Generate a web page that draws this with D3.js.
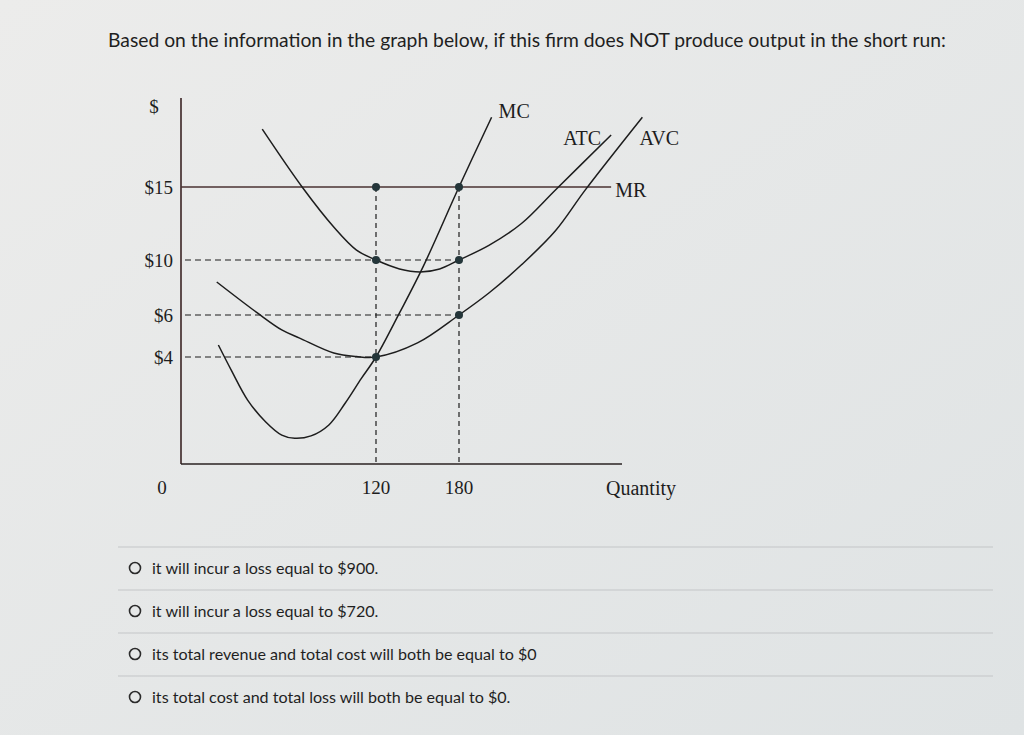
<!DOCTYPE html>
<html>
<head>
<meta charset="utf-8">
<script src="https://cdn.jsdelivr.net/npm/d3@7"></script>
<style>
  html, body { margin: 0; padding: 0; background: #e7e8e8; }
  svg { display: block; }
</style>
</head>
<body>
<div id="chart"></div>
<script>
// cost curves as [quantity, price]
var mcPoints  = [[23, 4.57], [31, 3.5], [41, 2.39], [52, 1.58], [62, 1.08], [70, 0.96], [80, 1.05], [91, 1.46], [101, 2.27], [111, 3.2], [120, 4], [137, 6.15], [154, 9.5], [180, 15], [204, 19.7]];
var atcPoints = [[50, 18.9], [75, 14.93], [94, 12.26], [108, 10.68], [120, 10], [137, 9.35], [152, 9.13], [166, 9.35], [180, 10], [202, 11], [226, 12.5], [251, 14.8], [292, 18.5]];
var avcPoints = [[22, 8.4], [47, 6.15], [62, 5.29], [73, 4.9], [94, 4.19], [108, 4.02], [120, 4], [150, 4.67], [180, 6], [202, 7.6], [226, 9.65], [251, 12], [273, 14.8], [315, 19.7]];
var mrPrice = 15;
var mrEnd = 292;

// axis labels
var priceTicks = [15, 10, 6, 4];
var quantityTicks = [0, 120, 180];

// guide lines: price levels carried to a quantity, and quantities dropped from a price
var hGuides = [{p: 10, q: 180}, {p: 6, q: 180}, {p: 4, q: 120}];
var vGuides = [{q: 120, p: 15}, {q: 180, p: 15}];
var dots = [[120, 15], [180, 15], [120, 10], [180, 10], [180, 6], [120, 4]];

var question = "Based on the information in the graph below, if this firm does NOT produce output in the short run:";
var answers = [
    "it will incur a loss equal to $900.",
    "it will incur a loss equal to $720.",
    "its total revenue and total cost will both be equal to $0",
    "its total cost and total loss will both be equal to $0."
];

var width = 1024, height = 735;
var ink = "#1d1d1d";
var serif = "'Liberation Serif', 'Times New Roman', serif";
var sans = "Lato, 'Open Sans', sans-serif";

var svg = d3.select("#chart").append("svg")
    .attr("width", width)
    .attr("height", height);

var grad = svg.append("defs").append("linearGradient")
    .attr("id", "bg")
    .attr("x1", 0).attr("y1", 0).attr("x2", 1).attr("y2", 1);
grad.append("stop").attr("offset", "0%").attr("stop-color", "#ececeb");
grad.append("stop").attr("offset", "100%").attr("stop-color", "#dfe3e4");

svg.append("rect")
    .attr("width", width).attr("height", height)
    .attr("fill", "url(#bg)");

// the graph is a sketch, so the scales are piecewise and not to proportion
var x = d3.scaleLinear()
    .domain([0, 120, 180, 300])
    .range([181, 376, 459, 622]);
var y = d3.scaleLinear()
    .domain([0, 4, 6, 10, 15, 21])
    .range([464, 357, 315, 260, 187, 98]);

var g = svg.append("g");

// axes
g.append("line")
    .attr("x1", x(0)).attr("x2", x(0))
    .attr("y1", y(21)).attr("y2", y(0))
    .attr("stroke", "#3a2424").attr("stroke-width", 1.6);
g.append("line")
    .attr("x1", x(0)).attr("x2", x(300))
    .attr("y1", y(0)).attr("y2", y(0))
    .attr("stroke", "#2a2222").attr("stroke-width", 1.6);

// dashed guides
g.selectAll(".hguide")
    .data(hGuides)
    .enter().append("line")
        .attr("class", "hguide")
        .attr("x1", x(0) + 4).attr("x2", function(d) { return x(d.q); })
        .attr("y1", function(d) { return y(d.p); })
        .attr("y2", function(d) { return y(d.p); })
        .attr("stroke", ink).attr("stroke-width", 1.2)
        .attr("stroke-dasharray", "6,4");
g.selectAll(".vguide")
    .data(vGuides)
    .enter().append("line")
        .attr("class", "vguide")
        .attr("x1", function(d) { return x(d.q); })
        .attr("x2", function(d) { return x(d.q); })
        .attr("y1", function(d) { return y(d.p); })
        .attr("y2", y(0))
        .attr("stroke", ink).attr("stroke-width", 1.2)
        .attr("stroke-dasharray", "5,4");

// MR
g.append("line")
    .attr("x1", x(0)).attr("x2", x(mrEnd))
    .attr("y1", y(mrPrice)).attr("y2", y(mrPrice))
    .attr("stroke", "#4a3232").attr("stroke-width", 1.4);

var line = d3.line()
    .x(function(d) { return x(d[0]); })
    .y(function(d) { return y(d[1]); })
    .curve(d3.curveCatmullRom.alpha(0.5));

var curves = [
    {name: "MC", pts: mcPoints},
    {name: "ATC", pts: atcPoints},
    {name: "AVC", pts: avcPoints}
];
g.selectAll(".curve")
    .data(curves)
    .enter().append("path")
        .attr("class", "curve")
        .attr("d", function(d) { return line(d.pts); })
        .attr("fill", "none")
        .attr("stroke", ink)
        .attr("stroke-width", 1.5);

g.selectAll(".dot")
    .data(dots)
    .enter().append("circle")
        .attr("class", "dot")
        .attr("cx", function(d) { return x(d[0]); })
        .attr("cy", function(d) { return y(d[1]); })
        .attr("r", 4)
        .attr("fill", "#24363a");

// curve labels, placed off the last point of each curve
var labelOffsets = {MC: [7, 1, "start"], ATC: [-10, 10, "end"], AVC: [-3, 28, "start"]};
g.selectAll(".curve-label")
    .data(curves)
    .enter().append("text")
        .attr("class", "curve-label")
        .text(function(d) { return d.name; })
        .attr("x", function(d) { return x(d.pts[d.pts.length - 1][0]) + labelOffsets[d.name][0]; })
        .attr("y", function(d) { return y(d.pts[d.pts.length - 1][1]) + labelOffsets[d.name][1]; })
        .style("text-anchor", function(d) { return labelOffsets[d.name][2]; })
        .style("font-family", serif).style("font-size", "20px")
        .attr("fill", ink);
g.append("text")
    .text("MR")
    .attr("x", x(mrEnd) + 4).attr("y", y(mrPrice) + 10)
    .style("font-family", serif).style("font-size", "20px")
    .attr("fill", ink);

// tick labels
g.selectAll(".ylab")
    .data(priceTicks)
    .enter().append("text")
        .attr("class", "ylab")
        .text(function(d) { return "$" + d; })
        .attr("x", x(0) - 8)
        .attr("y", function(d) { return y(d) + 7; })
        .style("text-anchor", "end")
        .style("font-family", serif).style("font-size", "19px")
        .attr("fill", ink);
g.append("text")
    .text("$")
    .attr("x", 154).attr("y", y(21) + 15)
    .style("text-anchor", "middle")
    .style("font-family", serif).style("font-size", "19px")
    .attr("fill", ink);
g.selectAll(".xlab")
    .data(quantityTicks)
    .enter().append("text")
        .attr("class", "xlab")
        .text(function(d) { return d; })
        .attr("x", function(d) { return d === 0 ? x(d) - 19 : x(d); })
        .attr("y", y(0) + 30)
        .style("text-anchor", "middle")
        .style("font-family", serif).style("font-size", "19px")
        .attr("fill", ink);
g.append("text")
    .text("Quantity")
    .attr("x", 641).attr("y", y(0) + 31)
    .style("text-anchor", "middle")
    .style("font-family", serif).style("font-size", "20px")
    .attr("fill", ink);

// question and answer options
svg.append("text")
    .text(question)
    .attr("x", 108).attr("y", 47)
    .style("font-family", sans).style("font-size", "19.3px")
    .attr("fill", "#1f1f1f");

var rowTop = 547, rowStep = 43;
svg.selectAll(".sep")
    .data(answers)
    .enter().append("line")
        .attr("class", "sep")
        .attr("x1", 118).attr("x2", 993)
        .attr("y1", function(d, i) { return rowTop + i * rowStep; })
        .attr("y2", function(d, i) { return rowTop + i * rowStep; })
        .attr("stroke", "#c4c6c7").attr("stroke-width", 1.2);

var rows = svg.selectAll(".answer")
    .data(answers)
    .enter().append("g")
        .attr("class", "answer")
        .attr("transform", function(d, i) { return "translate(0," + (rowTop + 21 + i * rowStep) + ")"; });
rows.append("circle")
    .attr("cx", 135).attr("cy", 0).attr("r", 5.5)
    .attr("fill", "none").attr("stroke", "#2b2b2b").attr("stroke-width", 1.6);
rows.append("text")
    .text(function(d) { return d; })
    .attr("x", 152).attr("y", 5.5)
    .style("font-family", sans).style("font-size", "16.1px")
    .attr("fill", "#1f1f1f");
</script>
</body>
</html>
